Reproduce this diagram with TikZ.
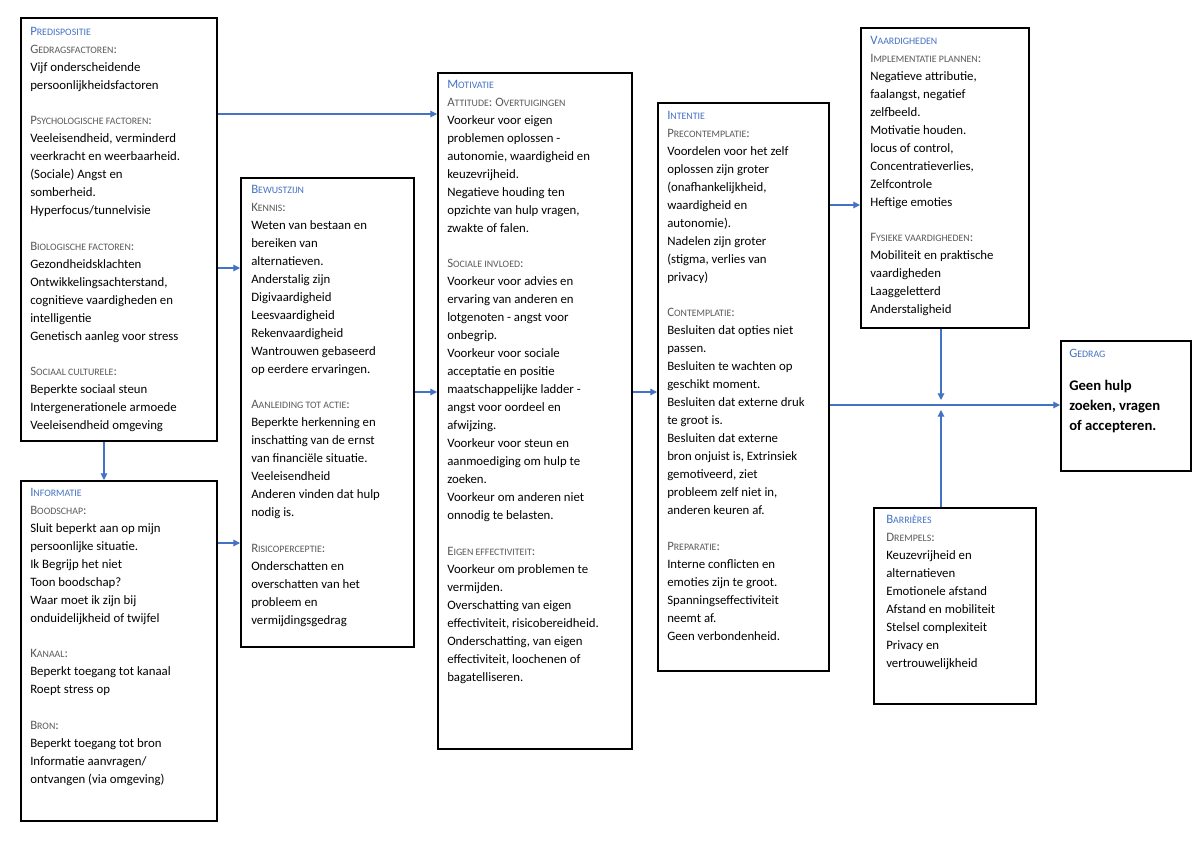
\documentclass[tikz,border=0pt]{standalone}
\usepackage{fontspec}
\setmainfont{Carlito}
\usetikzlibrary{arrows.meta}
\definecolor{hb}{RGB}{68,114,196}
\definecolor{sg}{RGB}{90,90,90}
\newcommand{\sm}[1]{{\fontsize{7.4}{10}\selectfont #1}}
\newcommand{\hd}[1]{{\color{hb}#1}}
\newcommand{\sh}[1]{{\color{sg}#1}}
\tikzset{
 box/.style={draw,line width=1.4pt,anchor=north west,inner sep=0pt},
 txt/.style={anchor=north west,align=left,inner sep=0pt,font=\fontsize{9.6}{13.5}\selectfont},
 arr/.style={draw=hb,line width=0.8pt,-{Triangle[length=5pt,width=5pt]}},
}
\begin{document}
\begin{tikzpicture}[x=0.75pt,y=-0.75pt]
\useasboundingbox (0,0) rectangle (1200,849);
\fill[white] (0,0) rectangle (1200,849);
% boxes
\node[box,minimum width=147pt,minimum height=317pt] (pre) at (20,17) {};
\node[box,minimum width=147pt,minimum height=255pt] (inf) at (20,480) {};
\node[box,minimum width=130pt,minimum height=352pt] (bew) at (240,177) {};
\node[box,minimum width=145.5pt,minimum height=507pt] (mot) at (437,72) {};
\node[box,minimum width=128pt,minimum height=426pt] (int) at (657,102) {};
\node[box,minimum width=126pt,minimum height=225pt] (vaa) at (860,27) {};
\node[box,minimum width=97.5pt,minimum height=97.5pt] (ged) at (1060,340) {};
\node[box,minimum width=121.5pt,minimum height=147pt] (bar) at (873,507) {};
% texts
\node[txt] (tpre) at (30,27) {\hd{P\sm{REDISPOSITIE}}\\
\sh{G\sm{EDRAGSFACTOREN}:}\\Vijf onderscheidende\\persoonlijkheidsfactoren\\[13pt]
\sh{P\sm{SYCHOLOGISCHE FACTOREN}:}\\Veeleisendheid, verminderd\\veerkracht en weerbaarheid.\\(Sociale) Angst en\\somberheid.\\Hyperfocus/tunnelvisie\\[13pt]
\sh{B\sm{IOLOGISCHE FACTOREN}:}\\Gezondheidsklachten\\Ontwikkelingsachterstand,\\cognitieve vaardigheden en\\intelligentie\\Genetisch aanleg voor stress\\[13pt]
\sh{S\sm{OCIAAL CULTURELE}:}\\Beperkte sociaal steun\\Intergenerationele armoede\\Veeleisendheid omgeving};
\node[txt] (tinf) at (30,488) {\hd{I\sm{NFORMATIE}}\\
\sh{B\sm{OODSCHAP}:}\\Sluit beperkt aan op mijn\\persoonlijke situatie.\\Ik Begrijp het niet\\Toon boodschap?\\Waar moet ik zijn bij\\onduidelijkheid of twijfel\\[13pt]
\sh{K\sm{ANAAL}:}\\Beperkt toegang tot kanaal\\Roept stress op\\[13pt]
\sh{B\sm{RON}:}\\Beperkt toegang tot bron\\Informatie aanvragen/\\ontvangen (via omgeving)};
\node[txt] (tbew) at (251,185) {\hd{B\sm{EWUSTZIJN}}\\
\sh{K\sm{ENNIS}:}\\Weten van bestaan en\\bereiken van\\alternatieven.\\Anderstalig zijn\\Digivaardigheid\\Leesvaardigheid\\Rekenvaardigheid\\Wantrouwen gebaseerd\\op eerdere ervaringen.\\[13pt]
\sh{A\sm{ANLEIDING TOT ACTIE}:}\\Beperkte herkenning en\\inschatting van de ernst\\van financiële situatie.\\Veeleisendheid\\Anderen vinden dat hulp\\nodig is.\\[13pt]
\sh{R\sm{ISICOPERCEPTIE}:}\\Onderschatten en\\overschatten van het\\probleem en\\vermijdingsgedrag};
\node[txt] (tmot) at (447,80) {\hd{M\sm{OTIVATIE}}\\
\sh{A\sm{TTITUDE}: O\sm{VERTUIGINGEN}}\\Voorkeur voor eigen\\problemen oplossen -\\autonomie, waardigheid en\\keuzevrijheid.\\Negatieve houding ten\\opzichte van hulp vragen,\\zwakte of falen.\\[13pt]
\sh{S\sm{OCIALE INVLOED}:}\\Voorkeur voor advies en\\ervaring van anderen en\\lotgenoten - angst voor\\onbegrip.\\Voorkeur voor sociale\\acceptatie en positie\\maatschappelijke ladder -\\angst voor oordeel en\\afwijzing.\\Voorkeur voor steun en\\aanmoediging om hulp te\\zoeken.\\Voorkeur om anderen niet\\onnodig te belasten.\\[13pt]
\sh{E\sm{IGEN EFFECTIVITEIT}:}\\Voorkeur om problemen te\\vermijden.\\Overschatting van eigen\\effectiviteit, risicobereidheid.\\Onderschatting, van eigen\\effectiviteit, loochenen of\\bagatelliseren.};
\node[txt] (tint) at (667,111) {\hd{I\sm{NTENTIE}}\\
\sh{P\sm{RECONTEMPLATIE}:}\\Voordelen voor het zelf\\oplossen zijn groter\\(onafhankelijkheid,\\waardigheid en\\autonomie).\\Nadelen zijn groter\\(stigma, verlies van\\privacy)\\[13pt]
\sh{C\sm{ONTEMPLATIE}:}\\Besluiten dat opties niet\\passen.\\Besluiten te wachten op\\geschikt moment.\\Besluiten dat externe druk\\te groot is.\\Besluiten dat externe\\bron onjuist is, Extrinsiek\\gemotiveerd, ziet\\probleem zelf niet in,\\anderen keuren af.\\[13pt]
\sh{P\sm{REPARATIE}:}\\Interne conflicten en\\emoties zijn te groot.\\Spanningseffectiviteit\\neemt af.\\Geen verbondenheid.};
\node[txt] (tvaa) at (870,36) {\hd{V\sm{AARDIGHEDEN}}\\
\sh{I\sm{MPLEMENTATIE PLANNEN}:}\\Negatieve attributie,\\faalangst, negatief\\zelfbeeld.\\Motivatie houden.\\locus of control,\\Concentratieverlies,\\Zelfcontrole\\Heftige emoties\\[13pt]
\sh{F\sm{YSIEKE VAARDIGHEDEN}:}\\Mobiliteit en praktische\\vaardigheden\\Laaggeletterd\\Anderstaligheid};
\node[txt] (tged) at (1069,349) {\hd{G\sm{EDRAG}}};
\node[txt,font=\fontsize{11}{15}\selectfont\bfseries] (tged2) at (1069,380) {Geen hulp\\zoeken, vragen\\of accepteren.};
\node[txt] (tbar) at (886,515) {\hd{B\sm{ARRIÈRES}}\\
\sh{D\sm{REMPELS}:}\\Keuzevrijheid en\\alternatieven\\Emotionele afstand\\Afstand en mobiliteit\\Stelsel complexiteit\\Privacy en\\vertrouwelijkheid};
% connectors
\draw[arr] (pre.east |- 0,114) -- (mot.west |- 0,114);
\draw[arr] (pre.east |- 0,268) -- (bew.west |- 0,268);
\draw[arr] (pre.south -| 104,0) -- (inf.north -| 104,0);
\draw[arr] (inf.east |- 0,543) -- (bew.west |- 0,543);
\draw[arr] (bew.east |- 0,392) -- (mot.west |- 0,392);
\draw[arr] (mot.east |- 0,392) -- (int.west |- 0,392);
\draw[arr] (int.east |- 0,205) -- (vaa.west |- 0,205);
\draw[arr] (int.east |- 0,405) -- (ged.west |- 0,405);
\coordinate (j1) at (941,400);
\coordinate (j2) at (941,410);
\draw[arr] (vaa.south -| 941,0) -- (j1);
\draw[arr] (bar.north -| 941,0) -- (j2);
\end{tikzpicture}
\end{document}
